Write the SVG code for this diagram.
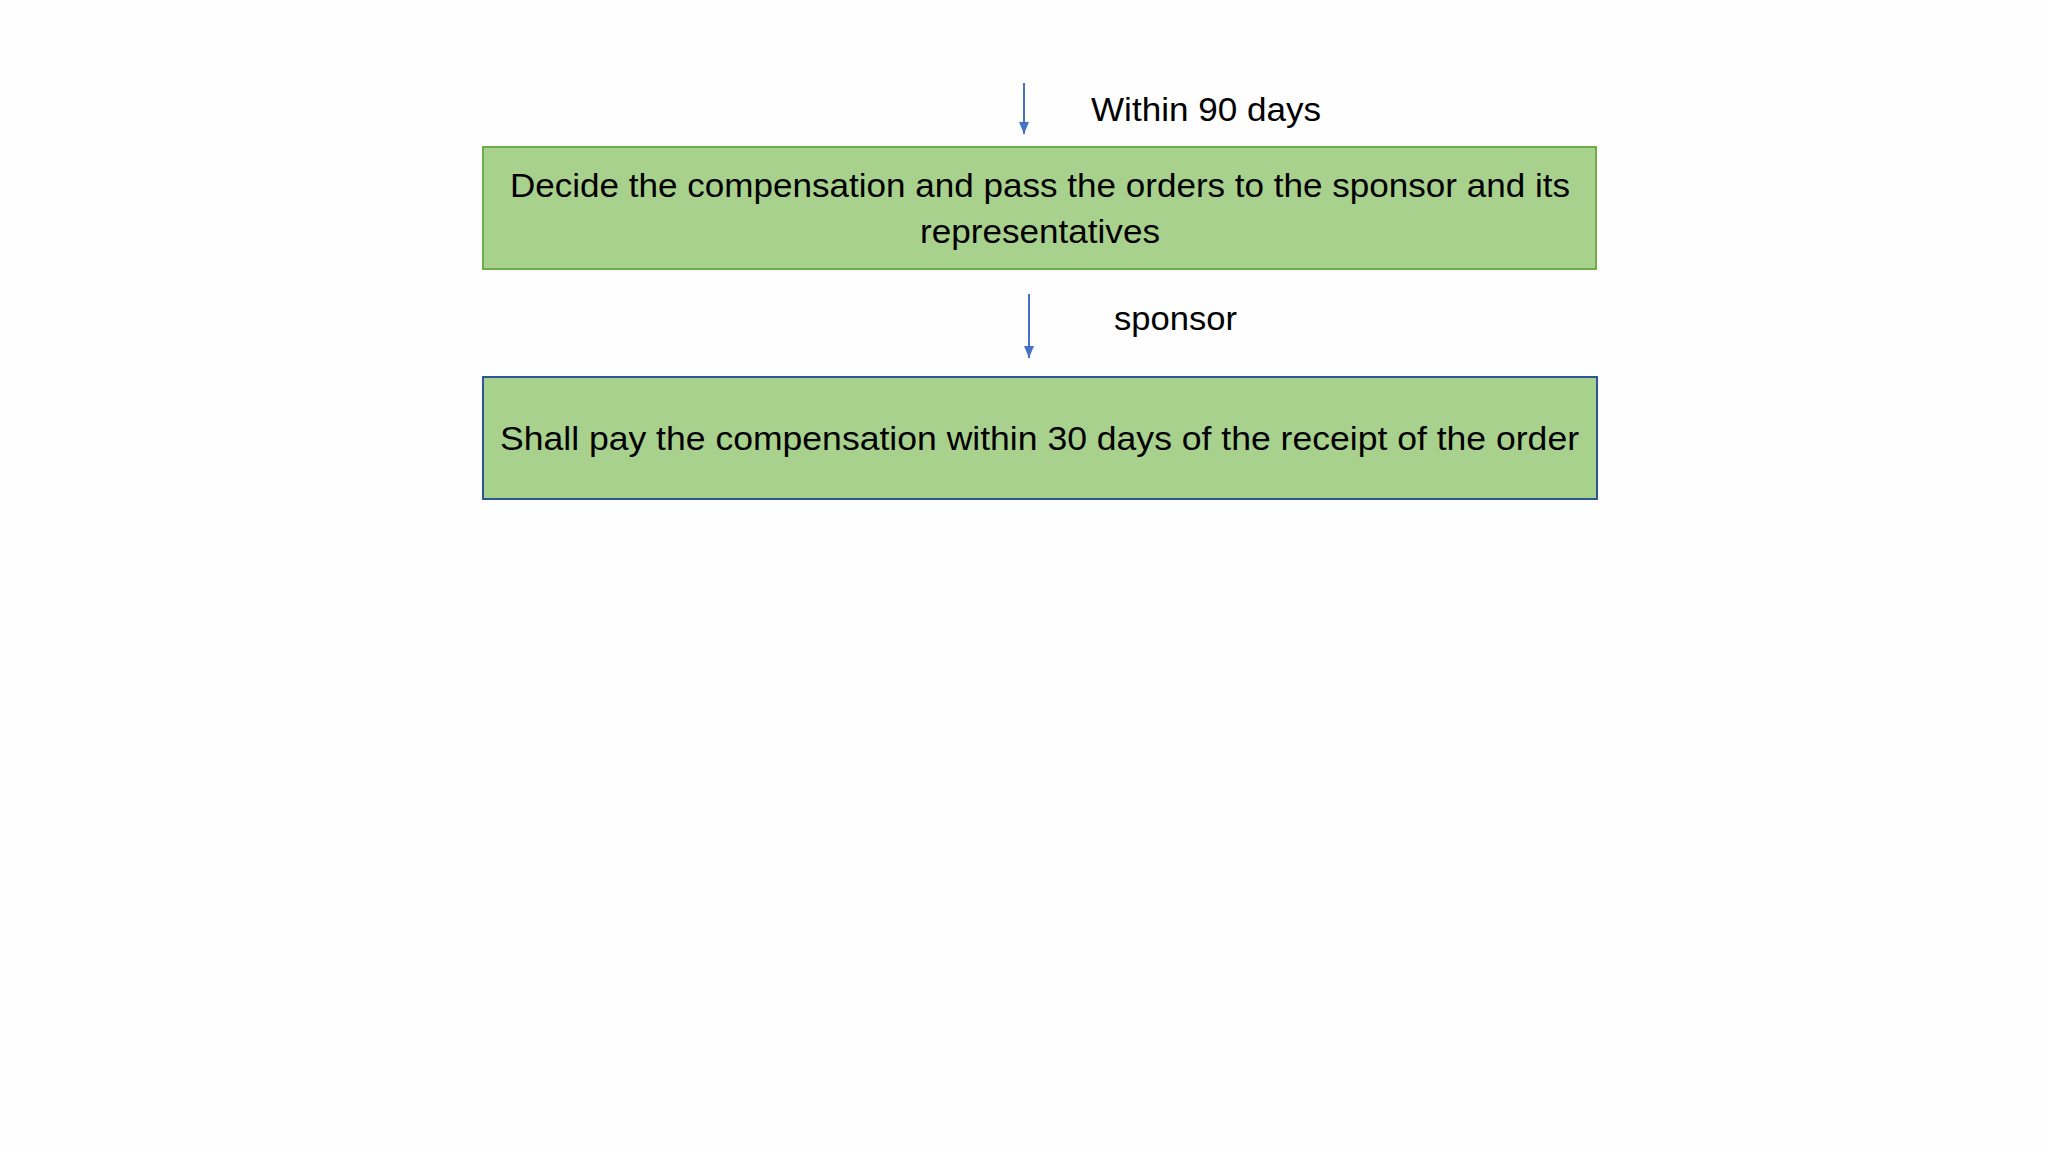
<svg xmlns="http://www.w3.org/2000/svg" width="2048" height="1152" viewBox="0 0 2048 1152">
<style>
.box{fill:#A9D18E;stroke-width:2}
.t{font-family:"Liberation Sans",Arial,sans-serif;font-size:34px;fill:#000}
.c{stroke:#4472C4;stroke-width:2;fill:none}
</style>
<defs>
<marker id="ah" viewBox="0 0 12 10" refX="12" refY="5" markerWidth="12" markerHeight="10" markerUnits="userSpaceOnUse" orient="auto">
<path d="M0,0 L12,5 L0,10 z" fill="#4472C4"/>
</marker>
</defs>
<rect width="2048" height="1152" fill="#FEFEFE"/>
<g id="connectors">
<path class="c" d="M1024,83 L1024,134" marker-end="url(#ah)"/>
<path class="c" d="M1029,294 L1029,358" marker-end="url(#ah)"/>
<text class="t" x="1091" y="121" textLength="230" lengthAdjust="spacingAndGlyphs">Within 90 days</text>
<text class="t" x="1114" y="330" textLength="123" lengthAdjust="spacingAndGlyphs">sponsor</text>
</g>
<g id="node1">
<rect class="box" x="483" y="147" width="1113" height="122" stroke="#70AD47"/>
<text class="t" x="510" y="197" textLength="1060" lengthAdjust="spacingAndGlyphs">Decide the compensation and pass the orders to the sponsor and its</text>
<text class="t" x="920" y="243" textLength="240" lengthAdjust="spacingAndGlyphs">representatives</text>
</g>
<g id="node2">
<rect class="box" x="483" y="377" width="1114" height="122" stroke="#2F5597"/>
<text class="t" x="500" y="450" textLength="1079" lengthAdjust="spacingAndGlyphs">Shall pay the compensation within 30 days of the receipt of the order</text>
</g>
</svg>
